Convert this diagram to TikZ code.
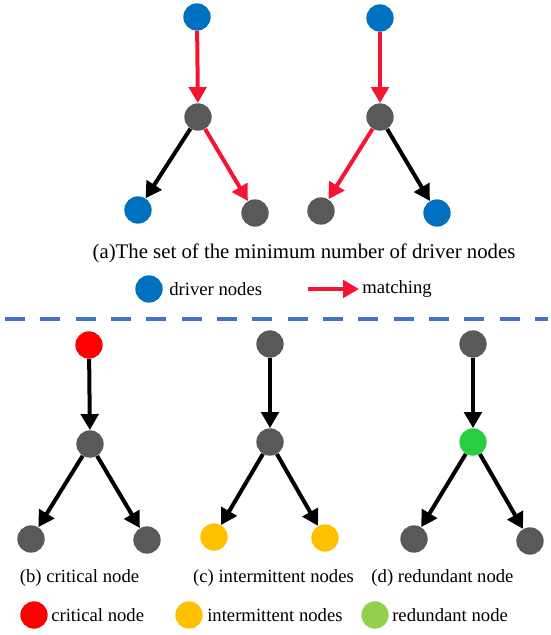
\documentclass[tikz,border=0pt]{standalone}
\usepackage{fontspec}
\setmainfont{Liberation Serif}
\usepackage{tikz}
\usetikzlibrary{arrows.meta}

\definecolor{drvblue}{RGB}{0,112,192}
\definecolor{nodegray}{RGB}{89,89,89}
\definecolor{matchred}{RGB}{245,20,50}
\definecolor{critred}{RGB}{255,0,0}
\definecolor{interyellow}{RGB}{255,192,0}
\definecolor{redungreen}{RGB}{40,205,65}
\definecolor{legendgreen}{RGB}{146,208,80}
\definecolor{sepblue}{RGB}{68,114,196}

\tikzset{
  vtx/.style={circle,inner sep=0pt,minimum width=19.5pt,minimum height=20.5pt},
  driver/.style={vtx,fill=drvblue},
  plain/.style={vtx,fill=nodegray},
  critical/.style={vtx,fill=critred},
  intermit/.style={vtx,fill=interyellow},
  redundant/.style={vtx,fill=redungreen},
  edge/.style={line width=3pt,-{Triangle[length=12pt,width=13pt]}},
  match/.style={edge,matchred},
  txt/.style={inner sep=0.75pt,font=\fontsize{14}{16}\selectfont}
}

\begin{document}
\begin{tikzpicture}[x=0.75pt,y=0.75pt,yscale=-1,xscale=1]
\useasboundingbox (0,0) rectangle (550,635);

% Graph (a), left
\node [driver] (ta) at (197,17) {};
\node [plain] (ma) at (198,117) {};
\node [driver] (la) at (138,210) {};
\node [plain] (ra) at (255,213) {};
\draw [match] (ta) -- (ma);
\draw [edge] (ma) -- (la);
\draw [match] (ma) -- (ra);

% Graph (a), right
\node [driver] (tb) at (380,18) {};
\node [plain] (mb) at (380,117) {};
\node [plain] (lb) at (321,211) {};
\node [driver] (rb) at (437,213) {};
\draw [match] (tb) -- (mb);
\draw [match] (mb) -- (lb);
\draw [edge] (mb) -- (rb);

% Text Node
\node [txt,font=\fontsize{15.6}{18}\selectfont] (capa) at (304,253) {(a)The set of the minimum number of driver nodes};

% Legend (a)
\node [driver] (keyd) at (149,289) {};
\node [txt,anchor=west] (keydt) at (168,289) {driver nodes};
\coordinate (keymS) at (308,289);
\coordinate (keymE) at (359,289);
\draw [match] (keymS) -- (keymE);
\node [txt,anchor=west] (keymt) at (361,289) {matching};

% Separator
\coordinate (sepL) at (5,319);
\coordinate (sepR) at (548,319);
\draw [sepblue,line width=3pt,dash pattern={on 15pt off 11.5pt}] (sepL) -- (sepR);

% Graph (b)
\node [critical] (tc) at (89,345) {};
\node [plain] (mc) at (90,444) {};
\node [plain] (lc) at (31,539) {};
\node [plain] (rc) at (147,540) {};
\draw [edge] (tc) -- (mc);
\draw [edge] (mc) -- (lc);
\draw [edge] (mc) -- (rc);

% Graph (c)
\node [plain] (td) at (270,344) {};
\node [plain] (md) at (270,442) {};
\node [intermit] (ld) at (214,537) {};
\node [intermit] (rd) at (325,538) {};
\draw [edge] (td) -- (md);
\draw [edge] (md) -- (ld);
\draw [edge] (md) -- (rd);

% Graph (d)
\node [plain] (te) at (473,344) {};
\node [redundant] (me) at (473,442) {};
\node [plain] (le) at (414,539) {};
\node [plain] (re) at (530,541) {};
\draw [edge] (te) -- (me);
\draw [edge] (me) -- (le);
\draw [edge] (me) -- (re);

% Text Node
\node [txt] (capb) at (79.5,578) {(b) critical node};
\node [txt] (capc) at (273.5,578) {(c) intermittent nodes};
\node [txt] (capd) at (442.5,578) {(d) redundant node};

% Legend (b)-(d)
\node [critical] (keyc) at (34,615) {};
\node [txt,anchor=west] (keyct) at (50,615) {critical node};
\node [intermit] (keyi) at (189,615) {};
\node [txt,anchor=west] (keyit) at (206,615) {intermittent nodes};
\node [vtx,fill=legendgreen] (keyr) at (375,615) {};
\node [txt,anchor=west] (keyrt) at (391,615) {redundant node};
\end{tikzpicture}
\end{document}
